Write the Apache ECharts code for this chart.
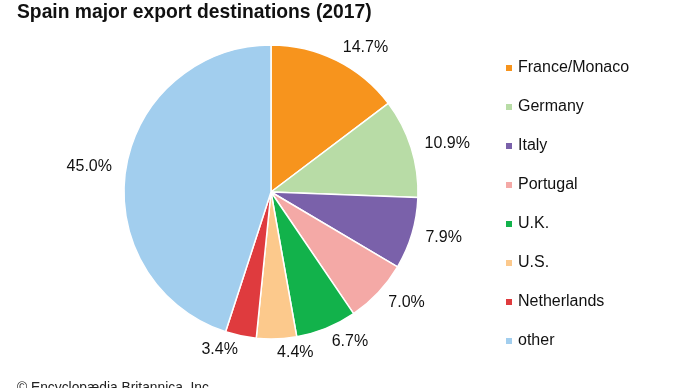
<!DOCTYPE html>
<html>
<head>
<meta charset="utf-8">
<script src="https://cdn.jsdelivr.net/npm/echarts@6/dist/echarts.min.js"></script>
<style>html,body{margin:0;padding:0;background:#fff}#c{width:690px;height:388px}</style>
</head>
<body>
<div id="c"></div>
<script>
const categories = ["France/Monaco","Germany","Italy","Portugal","U.K.","U.S.","Netherlands","other"];
const values = [14.7, 10.9, 7.9, 7.0, 6.7, 4.4, 3.4, 45.0];
const colors = ["#F7941D","#B8DCA6","#7A61AA","#F4A9A6","#12B24B","#FCC98C","#DF3B3E","#A2CEEE"];

const chart = echarts.init(document.getElementById('c'), null, {renderer:'canvas'});
const font = "Liberation Sans, Arial, Helvetica, sans-serif";
chart.setOption({
  animation: false,
  color: colors,
  title: [
    {text: "Spain major export destinations (2017)", left: 12, top: -2,
     textStyle: {fontFamily: font, fontSize: 19.3, fontWeight: 'bold', color: '#111'}},
    {text: "© Encyclopædia Britannica, Inc.", left: 12, top: 376,
     textStyle: {fontFamily: font, fontSize: 13.8, fontWeight: 'normal', color: '#222'}}
  ],
  legend: {
    orient: 'vertical', left: 499, top: 55,
    itemWidth: 8, itemHeight: 8, itemGap: 23, itemTextGap: 5,
    icon: 'rect',
    data: categories,
    textStyle: {fontFamily: font, fontSize: 16, color: '#111'}
  },
  series: [{
    type: 'pie',
    center: [271, 192],
    radius: [0, 147],
    startAngle: 90,
    clockwise: true,
    avoidLabelOverlap: false,
    itemStyle: {borderColor: '#fff', borderWidth: 1.5},
    label: {
      show: true, position: 'outside',
      formatter: p => p.value.toFixed(1) + '%',
      fontFamily: font, fontSize: 16, color: '#111',
      distanceToLabelLine: 0
    },
    labelLine: {show: false, length: 14, length2: 0},
    emphasis: {disabled: true},
    data: categories.map((n, i) => ({name: n, value: values[i]}))
  }]
});
</script>
</body>
</html>
